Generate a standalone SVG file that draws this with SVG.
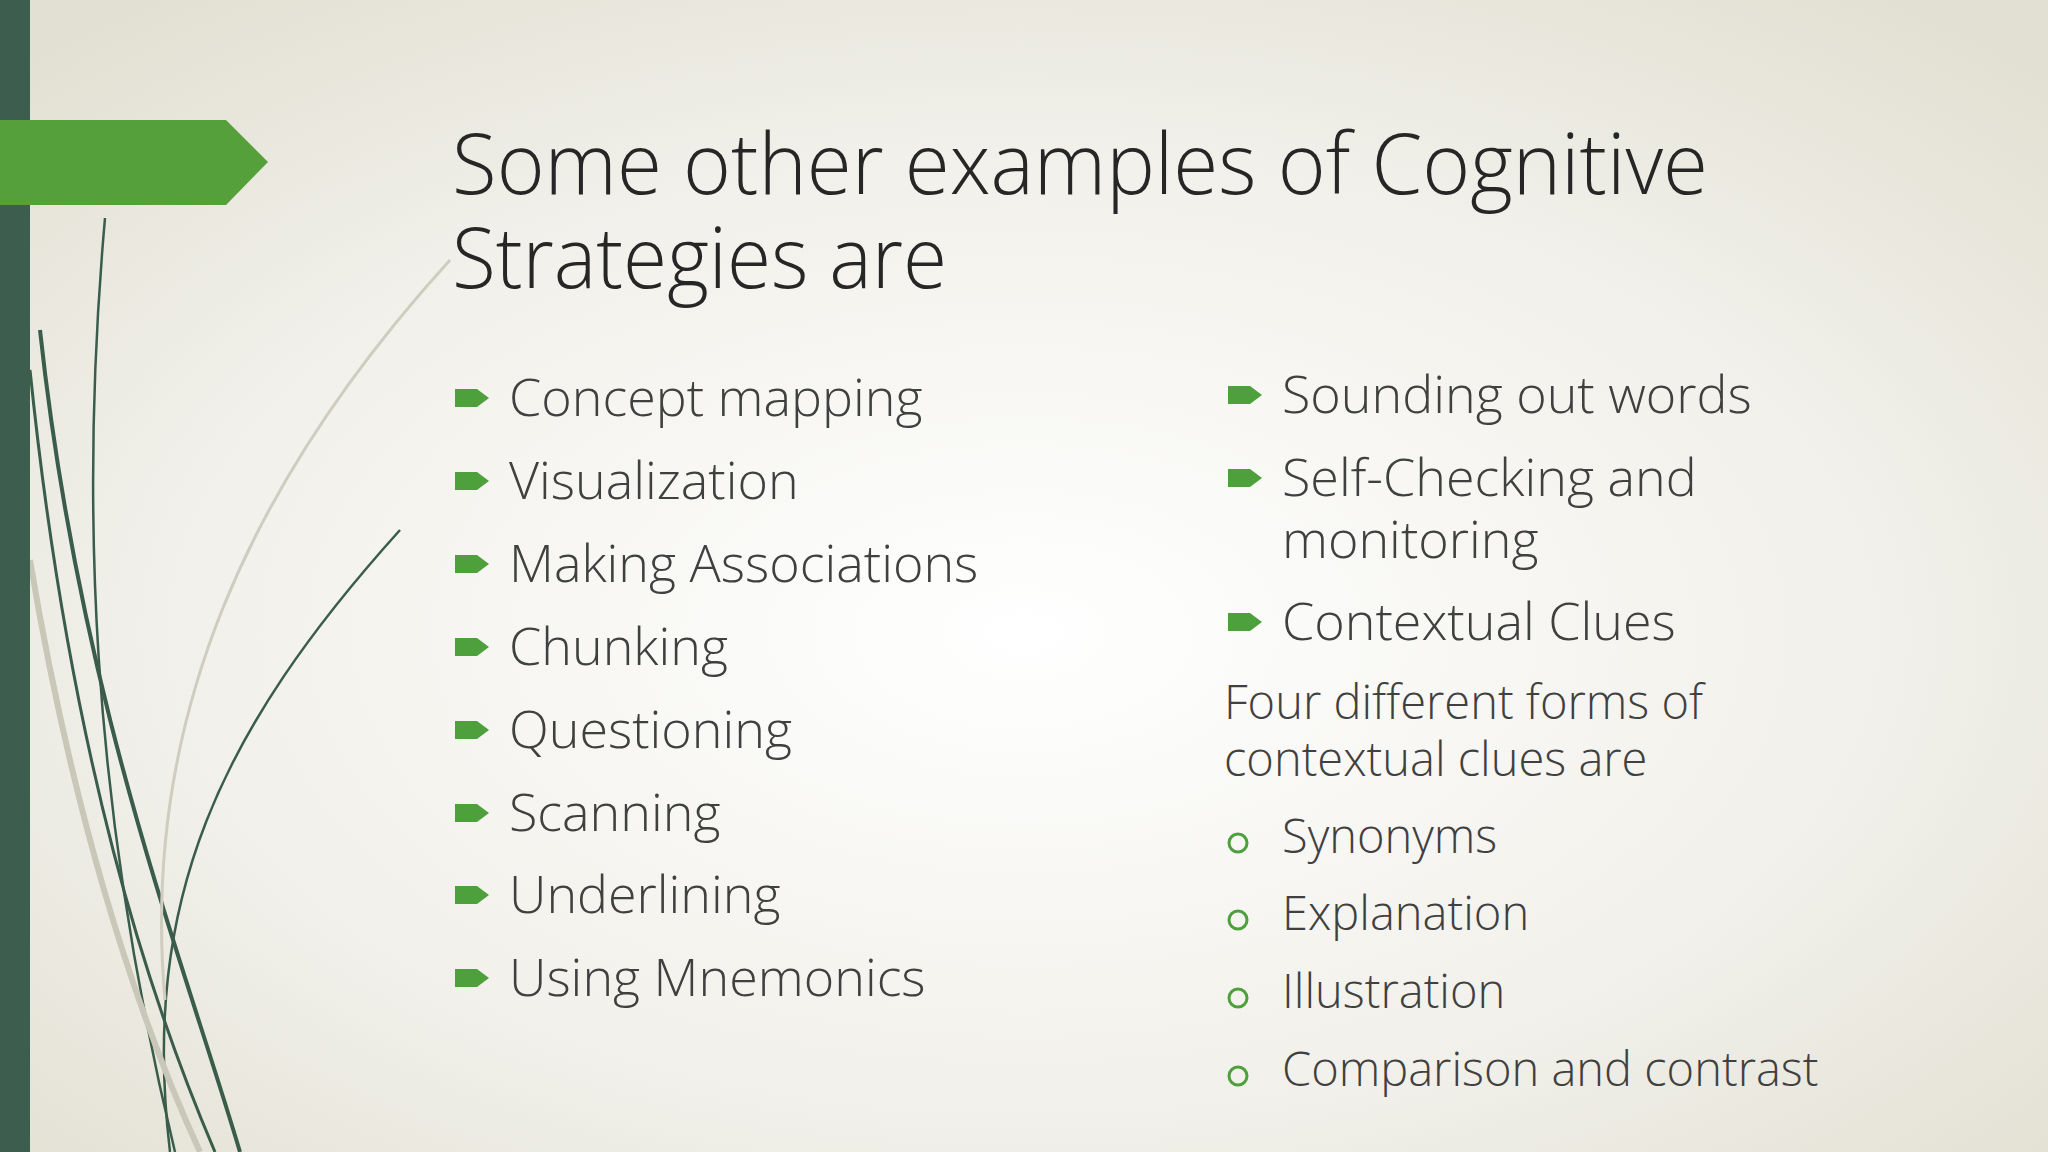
<svg xmlns="http://www.w3.org/2000/svg" width="2048" height="1152" viewBox="0 0 2048 1152">
<defs>
<radialGradient id="bg" cx="0.5" cy="0.55" r="0.7">
<stop offset="0" stop-color="#ffffff"/><stop offset="0.6" stop-color="#f1f0ea"/><stop offset="1" stop-color="#e2e0d2"/>
</radialGradient>
<style>
.t{font-family:"Open Sans","Noto Sans",sans-serif;fill:#404040;font-weight:300}
.h{font-family:"Open Sans","Noto Sans",sans-serif;fill:#262626;font-size:84px;font-weight:300}
.b{font-size:52px}
.s{font-size:47px}
.ci{fill:none;stroke:#4ea03c;stroke-width:3}
</style>
<path id="ar" d="M0,-9 H22 L34,0 L22,9 H0 Z" fill="#4ea03c"/>
</defs>
<rect width="2048" height="1152" fill="url(#bg)"/>
<g id="decor" fill="none">
<path d="M40,330 C80,700 180,950 240,1152" stroke="#3a5c4a" stroke-width="4"/>
<path d="M30,370 C70,760 150,1000 215,1152" stroke="#3a5c4a" stroke-width="3"/>
<path d="M105,218 C80,500 90,800 175,1152" stroke="#3a5c4a" stroke-width="2.5"/>
<path d="M400,530 C220,730 140,900 170,1152" stroke="#3a5c4a" stroke-width="2.5"/>
<path d="M450,260 C250,480 140,720 165,1000" stroke="#cfcdbf" stroke-width="3"/>
<path d="M30,560 C70,800 130,1000 200,1152" stroke="#c9c7b7" stroke-width="6"/>
</g>
<rect x="0" y="0" width="30" height="1152" fill="#3d5e4e"/>
<path d="M0,120 H226 L268,162 L226,205 H0 Z" fill="#55a03a"/>
<g id="title">
<text class="h" x="452" y="194" textLength="1256" lengthAdjust="spacingAndGlyphs">Some other examples of Cognitive</text>
<text class="h" x="452" y="288" textLength="495" lengthAdjust="spacingAndGlyphs">Strategies are</text>
</g>
<g id="left">
<use href="#ar" x="455" y="398"/><text class="t b" x="509" y="416">Concept mapping</text>
<use href="#ar" x="455" y="481"/><text class="t b" x="509" y="499">Visualization</text>
<use href="#ar" x="455" y="564"/><text class="t b" x="509" y="582">Making Associations</text>
<use href="#ar" x="455" y="647"/><text class="t b" x="509" y="665">Chunking</text>
<use href="#ar" x="455" y="730"/><text class="t b" x="509" y="748">Questioning</text>
<use href="#ar" x="455" y="813"/><text class="t b" x="509" y="831">Scanning</text>
<use href="#ar" x="455" y="895"/><text class="t b" x="509" y="913">Underlining</text>
<use href="#ar" x="455" y="978"/><text class="t b" x="509" y="996">Using Mnemonics</text>
</g>
<g id="right">
<use href="#ar" x="1228" y="395"/><text class="t b" x="1282" y="413">Sounding out words</text>
<use href="#ar" x="1228" y="478"/><text class="t b" x="1282" y="496">Self-Checking and</text>
<text class="t b" x="1282" y="558">monitoring</text>
<use href="#ar" x="1228" y="622"/><text class="t b" x="1282" y="640">Contextual Clues</text>
<text class="t s" x="1224" y="719">Four different forms of</text>
<text class="t s" x="1224" y="776">contextual clues are</text>
<circle class="ci" cx="1238" cy="843" r="9"/><text class="t s" x="1282" y="853">Synonyms</text>
<circle class="ci" cx="1238" cy="920" r="9"/><text class="t s" x="1282" y="930">Explanation</text>
<circle class="ci" cx="1238" cy="998" r="9"/><text class="t s" x="1282" y="1008">Illustration</text>
<circle class="ci" cx="1238" cy="1076" r="9"/><text class="t s" x="1282" y="1086">Comparison and contrast</text>
</g>
</svg>
